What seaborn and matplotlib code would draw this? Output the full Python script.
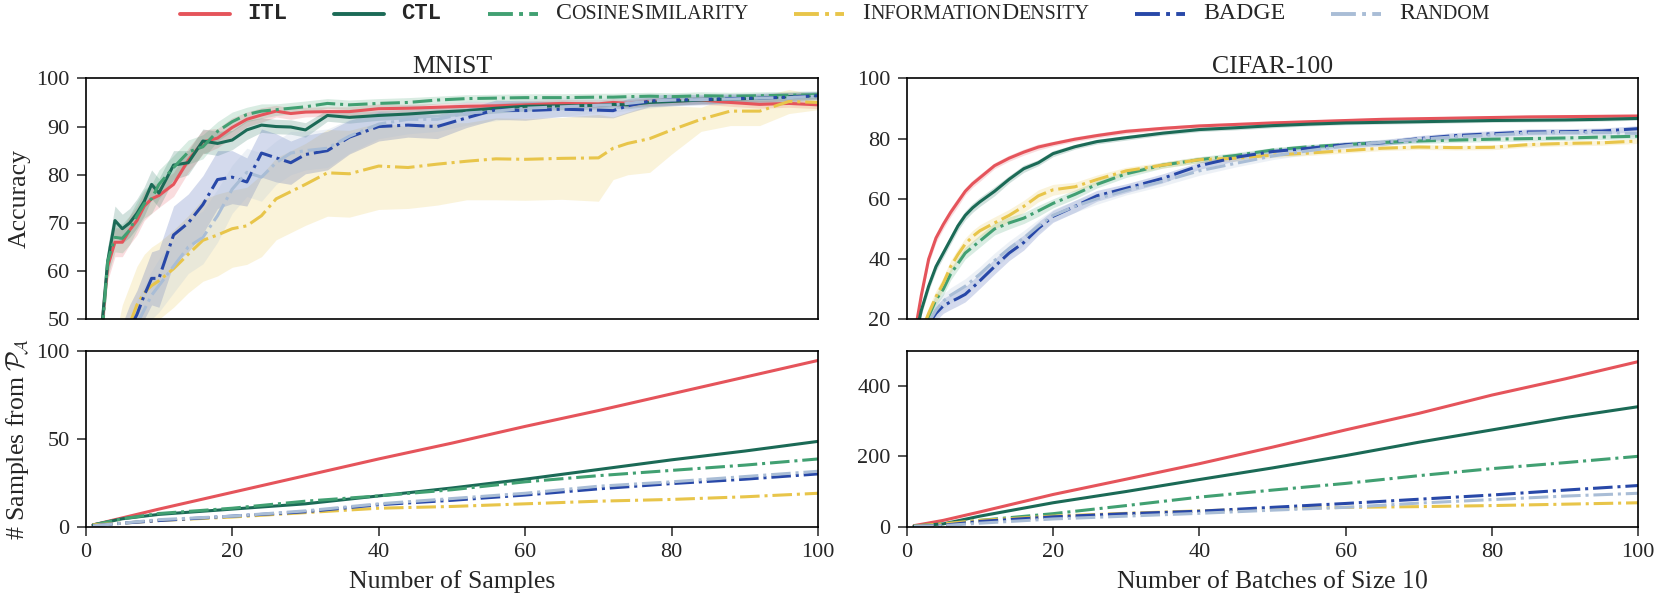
import matplotlib
matplotlib.use("Agg")
import matplotlib.pyplot as plt
import numpy as np
import pandas as pd
import seaborn as sns
from matplotlib.lines import Line2D
from matplotlib.offsetbox import AnchoredOffsetbox, DrawingArea, HPacker, TextArea

# ---- data ----
METHODS = ["ITL", "CTL", "CosineSimilarity", "InformationDensity", "BADGE", "Random"]

# MNIST accuracy
x_mnist = [1, 2, 3, 4, 5, 6, 7, 8, 9, 10, 12, 14, 16, 18, 20, 22, 24, 26, 28, 30,
           33, 36, 40, 44, 48, 52, 56, 60, 65, 70, 72, 74, 77, 80, 84, 88, 92, 96, 100]
mnist_itl = [20, 45, 61, 66, 66, 68.5, 70.5, 73.5, 75, 75.7, 78, 83, 86.8, 87.6, 89.8,
             91.5, 92.4, 93.2, 92.7, 93, 93.1, 93.1, 93.7, 93.8, 94, 94.2, 94.3, 94.5, 94.8,
             94.7, 95, 94.8, 95.2, 95.3, 95.5, 95, 94.6, 94.8, 94.5]
mnist_ctl = [20, 45, 62, 70.5, 68.8, 70, 72, 74.5, 78, 76.2, 82, 82.5, 87, 86.5, 87.2,
             89.3, 90.3, 90, 89.9, 89.3, 92.3, 91.9, 92.3, 92.6, 93, 93.3, 93.8, 94.2, 94.3,
             94.4, 94.6, 94.5, 95, 95.2, 95.5, 95.7, 95.9, 96.2, 96.5]
mnist_cos = [20, 42, 62, 67, 66.8, 68.5, 71.5, 74, 75, 78, 81.5, 84.7, 85.8, 89, 91,
             92.5, 93.2, 93.5, 93.8, 94.1, 94.8, 94.5, 94.8, 95, 95.5, 95.8, 95.9, 96, 96,
             96.1, 96.1, 96.2, 96.3, 96.2, 96.4, 96.3, 96.4, 96.5, 96.6]
mnist_id = [10, 20, 30, 38, 45, 49, 53, 55.5, 57, 58, 60.5, 63.5, 66.4, 67.5, 68.8,
            69.4, 71.5, 75, 76.5, 78, 80.4, 80.2, 81.8, 81.5, 82.2, 82.8, 83.3, 83.2, 83.4,
            83.5, 85.5, 86.5, 87.5, 89.3, 91.5, 93.2, 93.2, 95.2, 95]
mnist_badge = [10, 20, 30, 38, 44, 48, 51, 55, 58.5, 58.5, 67.5, 70, 73.8, 79, 79.5,
               78.5, 84.5, 83.5, 82.5, 84.2, 85, 87.8, 90, 90.3, 90, 91.8, 93.5, 93.3, 93.6,
               93.4, 93.3, 94.3, 95.3, 95.5, 95.6, 95.8, 95.9, 96.1, 96.4]
mnist_random = [10, 18, 27, 35, 41, 45, 49, 52, 55, 57, 61, 65, 67, 71.5, 77,
                80.5, 79.5, 82.5, 84.5, 85, 85.5, 88, 90.5, 91.5, 91.5, 92.8, 93.2, 93.8, 94.1,
                94.4, 94.5, 94.8, 95.3, 95.5, 95.6, 95.7, 95.9, 96, 96.3]
# half width of the shaded bands
mnist_itl_sd = [2, 3, 3, 3, 3, 3, 3, 3, 3, 2.5, 2.5, 2.5, 2.5, 2, 2, 1.5, 1.5, 1.2, 1.2, 1,
                1, 1, 1, .8, .8, .8, .8, .8, .8, .8, .8, .8, .8, .8, .8, .8, .8, .8, .8]
mnist_ctl_sd = [2, 3, 3, 3, 3, 3, 3, 3, 3, 3, 3, 2.5, 2.5, 2.5, 2, 2, 1.5, 1.5, 1.5, 1.5,
                1.2, 1.2, 1, 1, 1, 1, 1, 1, .8, .8, .8, .8, .8, .8, .8, .8, .8, .8, .8]
mnist_cos_sd = [2, 3, 3, 3, 3, 3, 3, 3, 3, 3, 2.5, 2.5, 2.5, 2, 2, 1.5, 1.5, 1.2, 1.2, 1.2,
                1, 1, 1, 1, .8, .8, .8, .8, .8, .8, .8, .8, .8, .8, .8, .8, .8, .8, .8]
mnist_id_sd = [5, 6, 7, 8, 8, 8, 8, 8, 8, 8, 8, 8, 8.5, 8.5, 8, 8, 8.5, 8.5, 8.5, 8.5,
               9, 9, 9, 8.5, 8.5, 8, 8.5, 8.5, 8.5, 9, 6.5, 6.5, 7, 5, 2.5, 3, 3, 2.5, 1.5]
mnist_badge_sd = [3, 4, 5, 5, 5, 5, 5, 5, 5.5, 6, 6, 6, 6, 6, 5.5, 5, 5, 5, 4.5, 4,
                  4, 3.5, 3, 2.5, 2.5, 2, 2, 2, 1.5, 1.5, 1.5, 1.5, 1.2, 1.2, 1, 1, 1, 1, .8]
mnist_random_sd = [3, 4, 5, 5, 5, 5, 5, 5, 5, 5.5, 5.5, 5.5, 5.5, 5.5, 5, 5, 5, 4.5, 4.5, 4,
                   4, 3.5, 3, 3, 2.5, 2.5, 2, 2, 2, 1.5, 1.5, 1.5, 1.5, 1.2, 1.2, 1, 1, 1, 1]

# CIFAR-100 accuracy
x_cifar = [1, 2, 3, 4, 5, 6, 7, 8, 9, 10, 12, 14, 16, 18, 20, 23, 26, 30, 35, 40,
           45, 50, 55, 60, 65, 70, 75, 80, 85, 90, 95, 100]
cifar_itl = [14, 28, 40, 47, 51.5, 55.5, 59, 62.5, 65, 67, 71, 73.5, 75.5, 77.2, 78.3,
             79.8, 81, 82.4, 83.4, 84.2, 84.7, 85.2, 85.6, 86, 86.4, 86.6, 86.8, 87, 87.2,
             87.3, 87.4, 87.5]
cifar_ctl = [12, 23, 31, 37.5, 42, 46.5, 51, 54.5, 57, 59, 62.5, 66.5, 70, 72, 75,
             77.3, 79, 80.3, 81.8, 83, 83.6, 84.3, 84.8, 85.2, 85.4, 85.6, 85.8, 86, 86.1,
             86.2, 86.4, 86.7]
cifar_cos = [10, 15, 21, 26.5, 30, 35, 38.5, 42, 44, 46, 50, 52, 53.6, 56, 58.5,
             61.5, 64.8, 68.3, 71.2, 73, 74.4, 76.2, 77.3, 78, 78.7, 79.2, 79.5, 79.8, 80,
             80.2, 80.5, 80.8]
cifar_id = [10, 16, 22, 27.5, 32, 37.5, 41.5, 45, 47.5, 49.4, 52, 54.5, 57.5, 61, 63,
            64, 66.4, 69.3, 71.2, 73, 73.5, 74.5, 75.2, 76, 76.8, 77.2, 77, 77.1, 78,
            78.4, 78.6, 79.2]
cifar_badge = [10, 14, 18.5, 22, 24.5, 25.8, 27, 28.3, 30.5, 32.8, 37.5, 42, 45.5, 50.2, 54.2,
               57.5, 61, 63.5, 66.8, 71, 73.8, 75.7, 76.8, 78, 78.6, 80, 81, 81.6, 82.2,
               82.3, 82.5, 83.3]
cifar_random = [10, 14, 19, 23, 26, 28, 29.5, 31, 33, 35, 39.5, 43.5, 47, 51, 54.5,
                57.5, 60, 62.8, 65.8, 69.3, 71.8, 74.2, 76, 77.6, 78.8, 79.8, 80.6, 81.2, 81.8,
                82, 82, 81.7]
cifar_itl_sd = [1, 1.5, 1.5, 1.5, 1.5, 1.5, 1.5, 1.2, 1.2, 1.2, 1, 1, 1, 1, .8, .8,
                .8, .8, .7, .7, .7, .7, .6, .6, .6, .6, .6, .6, .6, .6, .6, .6]
cifar_ctl_sd = [1, 1.5, 1.5, 1.5, 1.5, 1.5, 1.5, 1.5, 1.5, 1.5, 1.5, 1.2, 1.2, 1, 1, .8,
                .8, .8, .7, .7, .7, .7, .6, .6, .6, .6, .6, .6, .6, .6, .6, .6]
cifar_cos_sd = [1, 1.5, 2, 2, 2, 2, 2, 2, 2, 2, 2, 2, 1.8, 1.8, 1.5, 1.5,
                1.2, 1.2, 1, 1, 1, .8, .8, .8, .8, .8, .8, .8, .8, .8, .8, .8]
cifar_id_sd = [1, 1.5, 2, 2, 2, 2, 2, 2, 2, 2, 2, 2, 2, 2, 1.8, 1.5,
               1.5, 1.2, 1, 1, 1, .8, .8, .8, .8, .8, .8, .8, .8, .8, .8, .8]
cifar_badge_sd = [1, 1.5, 2, 2.5, 2.5, 2.5, 2.5, 2.5, 2.5, 2.5, 2.5, 2.5, 2.5, 2.2, 2, 2,
                  1.8, 1.5, 1.5, 1.2, 1.2, 1, 1, 1, 1, 1, 1, 1, 1, 1, 1, 1]
cifar_random_sd = [1, 1.5, 2, 2.5, 2.5, 2.5, 2.5, 2.5, 2.5, 2.5, 2.5, 2.5, 2.5, 2.2, 2, 2,
                   1.8, 1.5, 1.5, 1.5, 1.2, 1.2, 1.2, 1, 1, 1, 1, 1, 1, 1, 1, 1]

# number of samples drawn from P_A
x_count = [1, 5, 10, 20, 30, 40, 50, 60, 70, 80, 90, 100]
mnist_n_itl = [1, 5, 10, 19.5, 29, 38.5, 47.5, 57, 66, 75.5, 85, 94.5]
mnist_n_ctl = [1, 4.5, 7, 10, 13, 17.5, 22, 27, 32.5, 38, 43, 48.5]
mnist_n_cos = [1, 4.5, 7.5, 10.5, 14.5, 17.5, 21, 25.5, 29, 32, 35, 38.5]
mnist_n_id = [1, 2, 3.5, 5.5, 8, 10.5, 11.5, 13, 14.5, 15.5, 17, 19]
mnist_n_badge = [0.5, 2, 3.5, 6, 8.5, 12.5, 15, 18, 21.5, 24.5, 27, 30]
mnist_n_random = [0.5, 2, 4, 6, 9, 13, 16, 19, 23, 25.5, 28.5, 31.5]

cifar_n_itl = [3, 18, 42, 91.5, 135, 179, 226, 275, 322, 374, 420, 469]
cifar_n_ctl = [2, 8, 30, 68, 100, 134, 167, 202, 240, 275, 310, 341]
cifar_n_cos = [2, 8, 18, 37, 60, 84, 104, 123, 145, 165, 182, 200]
cifar_n_id = [2, 8, 18, 30, 38, 45, 51, 55, 57, 60, 64, 68]
cifar_n_badge = [1, 4, 15, 28, 37, 44, 55, 66, 78, 90, 104, 117]
cifar_n_random = [1, 3, 10, 22, 30, 38, 47, 55, 67, 77, 87, 95]

# ---- style ----
COLORS = {"ITL": "#E5545B", "CTL": "#1B6A56", "CosineSimilarity": "#41A072",
          "InformationDensity": "#E8C54A", "BADGE": "#2848A8", "Random": "#A9BDD6"}
DASHES = {"ITL": "", "CTL": "", "CosineSimilarity": (6.4, 1.6, 1, 1.6),
          "InformationDensity": (6.4, 1.6, 1, 1.6), "BADGE": (6.4, 1.6, 1, 1.6),
          "Random": (6.4, 1.6, 1, 1.6)}
LW = 2.2
TICK_FS = 16
LABEL_FS = 18.5
LEG_FS = 17.2

sns.set_style("ticks")
plt.rcParams["font.family"] = ["Liberation Serif", "DejaVu Serif"]
plt.rcParams["mathtext.fontset"] = "cm"
plt.rcParams["axes.edgecolor"] = "black"
plt.rcParams["axes.linewidth"] = 1.2


def long_frame(x, series, sds=None):
    rows = []
    for i, m in enumerate(METHODS):
        for j, xv in enumerate(x):
            sd = sds[i][j] if sds is not None else 0.0
            rows.append({"x": xv, "y": series[i][j], "sd": sd, "method": m})
    return pd.DataFrame(rows)


def draw(ax, df, bands=True):
    if bands:
        for m in METHODS:
            d = df[df.method == m]
            ax.fill_between(d.x, d.y - d.sd, d.y + d.sd, color=COLORS[m],
                            alpha=0.2, lw=0)
    sns.lineplot(data=df, x="x", y="y", hue="method", style="method",
                 hue_order=METHODS, style_order=METHODS, palette=COLORS,
                 dashes=DASHES, lw=LW, legend=False, ax=ax)
    ax.set_xlim(0, 100)
    ax.set_xlabel("")
    ax.set_ylabel("")
    ax.tick_params(labelsize=TICK_FS, direction="out", length=6.5, width=1.1, pad=5)
    for s in ax.spines.values():
        s.set_visible(True)


df_mnist = long_frame(x_mnist,
                      [mnist_itl, mnist_ctl, mnist_cos, mnist_id, mnist_badge, mnist_random],
                      [mnist_itl_sd, mnist_ctl_sd, mnist_cos_sd, mnist_id_sd,
                       mnist_badge_sd, mnist_random_sd])
df_cifar = long_frame(x_cifar,
                      [cifar_itl, cifar_ctl, cifar_cos, cifar_id, cifar_badge, cifar_random],
                      [cifar_itl_sd, cifar_ctl_sd, cifar_cos_sd, cifar_id_sd,
                       cifar_badge_sd, cifar_random_sd])
df_mnist_n = long_frame(x_count, [mnist_n_itl, mnist_n_ctl, mnist_n_cos, mnist_n_id,
                                  mnist_n_badge, mnist_n_random])
df_cifar_n = long_frame(x_count, [cifar_n_itl, cifar_n_ctl, cifar_n_cos, cifar_n_id,
                                  cifar_n_badge, cifar_n_random])

fig = plt.figure(figsize=(16.57, 5.99), dpi=100)
ax_tl = fig.add_axes([0.0517, 0.4669, 0.4421, 0.4023])
ax_tr = fig.add_axes([0.5472, 0.4669, 0.4415, 0.4023])
ax_bl = fig.add_axes([0.0517, 0.1207, 0.4421, 0.2938])
ax_br = fig.add_axes([0.5472, 0.1207, 0.4415, 0.2938])

draw(ax_tl, df_mnist)
ax_tl.set_ylim(50, 100)
ax_tl.set_yticks([50, 60, 70, 80, 90, 100])
ax_tl.set_title("MNIST", fontsize=LABEL_FS, pad=4)
ax_tl.set_ylabel("Accuracy", fontsize=LABEL_FS, labelpad=4)

draw(ax_tr, df_cifar)
ax_tr.set_ylim(20, 100)
ax_tr.set_yticks([20, 40, 60, 80, 100])
ax_tr.set_title("CIFAR-100", fontsize=LABEL_FS, pad=4)

for ax in (ax_tl, ax_tr):
    ax.tick_params(axis="x", bottom=False, labelbottom=False)

draw(ax_bl, df_mnist_n, bands=False)
ax_bl.set_ylim(0, 100)
ax_bl.set_yticks([0, 50, 100])
ax_bl.set_xticks([0, 20, 40, 60, 80, 100])
ax_bl.set_xlabel("Number of Samples", fontsize=LABEL_FS, labelpad=6)
ax_bl.set_ylabel(r"# Samples from $\mathcal{P}_{\!\mathcal{A}}$", fontsize=LABEL_FS,
                 labelpad=4)

draw(ax_br, df_cifar_n, bands=False)
ax_br.set_ylim(0, 500)
ax_br.set_yticks([0, 200, 400])
ax_br.set_xticks([0, 20, 40, 60, 80, 100])
ax_br.set_xlabel("Number of Batches of Size $10$", fontsize=LABEL_FS, labelpad=6)

fig.align_ylabels([ax_tl, ax_bl])


# ---- legend row with small caps labels ----
def label_box(name, size):
    if name in ("ITL", "CTL"):
        return TextArea(name, textprops=dict(fontsize=size - 1.2, family="Liberation Mono",
                                             weight="bold"))
    runs = []
    for ch in name:
        big = ch.isupper()
        if runs and runs[-1][1] == big:
            runs[-1][0] += ch.upper()
        else:
            runs.append([ch.upper(), big])
    parts = [TextArea(t, textprops=dict(fontsize=size if big else size * 0.84))
             for t, big in runs]
    return HPacker(children=parts, align="baseline", pad=0, sep=0)


entries = []
for m in METHODS:
    da = DrawingArea(36, 10, 0, 0)
    ls = "-" if DASHES[m] == "" else (0, DASHES[m])
    da.add_artist(Line2D([0, 36], [5, 5], color=COLORS[m], lw=LW + 0.6, linestyle=ls))
    entries.append(HPacker(children=[da, label_box(m, LEG_FS)], align="center",
                           pad=0, sep=13))
row = HPacker(children=entries, align="center", pad=0, sep=33)
leg = AnchoredOffsetbox(loc="upper center", child=row, pad=0.1, borderpad=0.15,
                        frameon=False, bbox_to_anchor=(0.504, 1.0),
                        bbox_transform=fig.transFigure)
fig.add_artist(leg)

fig.savefig("out.png", dpi=100)
